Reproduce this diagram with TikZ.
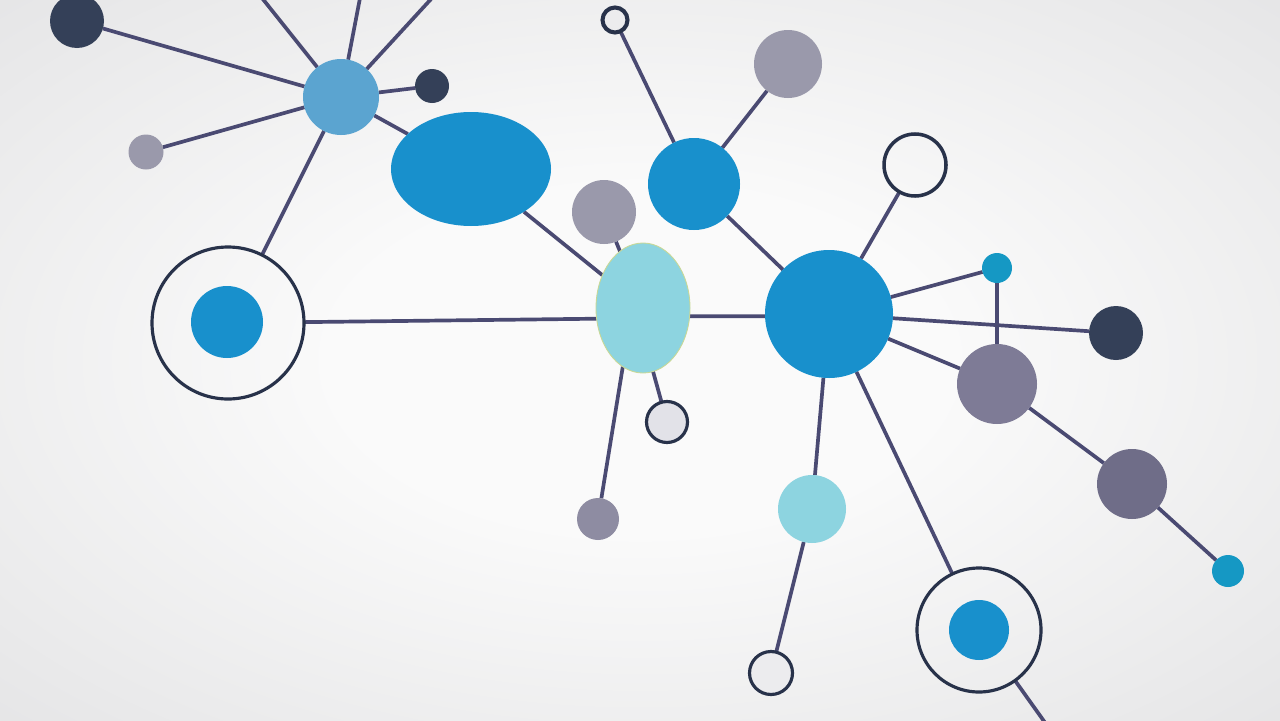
\documentclass[tikz,border=0pt]{standalone}
\usetikzlibrary{shapes.geometric}
\pgfdeclarelayer{bg}
\pgfdeclarelayer{edges}
\pgfsetlayers{bg,edges,main}
\definecolor{navy}{HTML}{344058}
\definecolor{lblue}{HTML}{5BA4D0}
\definecolor{mblue}{HTML}{1890CC}
\definecolor{cyanl}{HTML}{8DD4E0}
\definecolor{grayA}{HTML}{9A99AB}
\definecolor{grayD}{HTML}{8E8CA2}
\definecolor{grayB}{HTML}{7E7B96}
\definecolor{grayC}{HTML}{6F6D88}
\definecolor{tealc}{HTML}{1598C4}
\definecolor{linec}{HTML}{4A4A72}
\definecolor{ringc}{HTML}{28324A}
\definecolor{openfill}{HTML}{ECECEE}
\definecolor{bgin}{HTML}{FAFAFA}
\definecolor{bgout}{HTML}{D9D9DB}
\definecolor{bgcorner}{HTML}{D0D0D2}
\pgfdeclareradialshading{vign}{\pgfpoint{0bp}{0bp}}{color(0bp)=(bgin); color(12bp)=(bgin); color(50bp)=(bgout); color(70bp)=(bgcorner)}
\tikzset{
  dot/.style={circle, inner sep=0pt, outer sep=0pt, draw=none, minimum size=#1*0.02cm},
  oval/.style n args={2}{ellipse, inner sep=0pt, outer sep=0pt, minimum width=#1*0.02cm, minimum height=#2*0.02cm},
  openring/.style={draw=ringc, line width=1.8pt},
  linkline/.style={draw=linec, line width=2.1pt},
}
\begin{document}
\begin{tikzpicture}[x=0.02cm, y=-0.02cm]
\useasboundingbox (0,0) rectangle (1280,720);
\begin{pgfonlayer}{bg}
\shade[shading=vign] (0,0) rectangle (1280,720);
\end{pgfonlayer}

% nodes
\node[dot=54, fill=navy] (n1) at (77,21) {};
\node[dot=76, fill=lblue] (n2) at (341,97) {};
\node[dot=34, fill=navy] (n3) at (432,86) {};
\node[dot=35, fill=grayA] (n4) at (146,152) {};
\node[oval={160}{114}, fill=mblue] (n5) at (471,169) {};
\node[dot=152, openring] (r6) at (228,323) {};
\node[dot=72, fill=mblue] (c6) at (227,322) {};
\node[dot=64, fill=grayA] (n7) at (604,212) {};
\node[oval={94}{130}, fill=cyanl, draw={rgb,255:red,200;green,216;blue,150}, line width=0.5pt] (n8) at (643,308) {};
\node[dot=41, openring, fill={rgb,255:red,226;green,226;blue,232}] (n9) at (667,422) {};
\node[dot=42, fill=grayD] (n10) at (598,519) {};
\node[dot=25, draw=ringc, line width=2.3pt, fill=openfill] (n11) at (615,20) {};
\node[dot=68, fill=grayA] (n12) at (788,64) {};
\node[dot=92, fill=mblue] (n13) at (694,184) {};
\node[dot=62, draw=ringc, line width=2pt] (n14) at (915,165) {};
\node[dot=128, fill=mblue] (n15) at (829,314) {};
\node[dot=30, fill=tealc] (n16) at (997,268) {};
\node[dot=54, fill=navy] (n17) at (1116,333) {};
\node[dot=80, fill=grayB] (n18) at (997,384) {};
\node[dot=70, fill=grayC] (n19) at (1132,484) {};
\node[dot=32, fill=tealc] (n20) at (1228,571) {};
\node[dot=68, fill=cyanl] (n21) at (812,509) {};
\node[dot=43, openring, fill=openfill] (n22) at (771,673) {};
\node[dot=124, openring] (r23) at (979,630) {};
\node[dot=60, fill=mblue] (c23) at (979,630) {};

\coordinate (t1) at (262,-2);
\coordinate (t2) at (360,-2);
\coordinate (t3) at (432,-2);
\coordinate (b1) at (1046,724);

% connectors
\begin{pgfonlayer}{edges}
\draw[linkline] (n2) -- (n1);
\draw[linkline] (n2) -- (n3);
\draw[linkline] (n2) -- (n4);
\draw[linkline] (n2) -- (n5);
\draw[linkline] (n2) -- (r6);
\draw[linkline] (n2) -- (t1);
\draw[linkline] (n2) -- (t2);
\draw[linkline] (n2) -- (t3);
\draw[linkline] (n5) -- (n8);
\draw[linkline] (r6) -- (n8.193);
\draw[linkline] (n7) -- (n8);
\draw[linkline] (n8.350) -- (n15.182);
\draw[linkline] (n8.279) -- (n9);
\draw[linkline] (n8.251) -- (n10);
\draw[linkline] (n11) -- (n13);
\draw[linkline] (n12) -- (n13);
\draw[linkline] (n13) -- (n15);
\draw[linkline] (n14) -- (n15);
\draw[linkline] (n15) -- (n16);
\draw[linkline] (n15) -- (n17);
\draw[linkline] (n15) -- (n18);
\draw[linkline] (n16) -- (n18);
\draw[linkline] (n18) -- (n19);
\draw[linkline] (n19) -- (n20);
\draw[linkline] (n15) -- (n21);
\draw[linkline] (n21) -- (n22);
\draw[linkline] (n15) -- (r23);
\draw[linkline] (r23) -- (b1);
\end{pgfonlayer}
\end{tikzpicture}
\end{document}
